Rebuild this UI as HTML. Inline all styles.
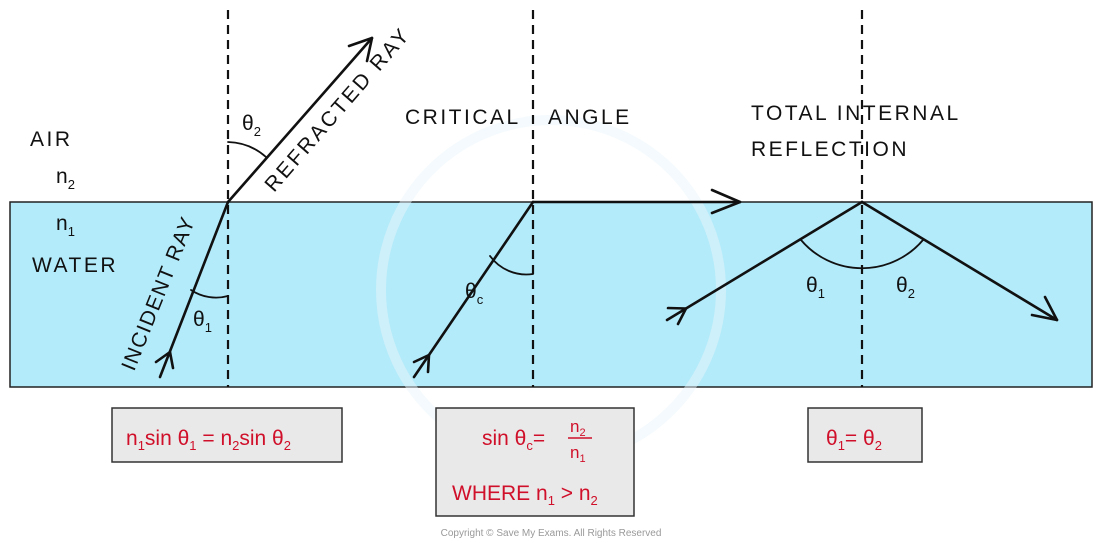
<!DOCTYPE html>
<html><head><meta charset="utf-8"><style>
html,body{margin:0;padding:0;background:#fff;}
svg{display:block;font-family:"Liberation Sans",sans-serif;}
</style></head><body>
<svg width="1100" height="543" viewBox="0 0 1100 543" xmlns="http://www.w3.org/2000/svg">
<rect x="10" y="202" width="1082" height="185" fill="#b3ebfa" stroke="#222" stroke-width="1.5"/>
<g fill="none" stroke="#e9f5fb" stroke-width="10" opacity="0.5">
<circle cx="551" cy="290" r="170"/>
</g>
<g stroke="#111" stroke-width="2.2" stroke-dasharray="9,6" fill="none">
<line x1="228" y1="10" x2="228" y2="387"/>
<line x1="533" y1="10" x2="533" y2="387"/>
<line x1="862" y1="10" x2="862" y2="387"/>
</g>
<g stroke="#111" stroke-width="2.6" fill="none" stroke-linecap="round" stroke-linejoin="round">
<line x1="160" y1="377" x2="228" y2="202"/>
<polyline points="156,362 170,352 173,368"/>
<line x1="228" y1="202" x2="372" y2="38"/>
<polyline points="349,46 372,38 367,61"/>
<path d="M191,290 A45,45 0 0 0 228,296" stroke-width="1.8"/>
<path d="M228,142 A60,60 0 0 1 266,157" stroke-width="1.8"/>
<line x1="414" y1="377" x2="533" y2="202"/>
<polyline points="414,362 429,355 428,372"/>
<line x1="533" y1="202" x2="740" y2="202"/>
<polyline points="712,190 740,202 712,213"/>
<path d="M490,256 A45,45 0 0 0 533,274" stroke-width="1.8"/>
<line x1="667" y1="320" x2="862" y2="202"/>
<polyline points="668,308 686,308.5 678,324"/>
<line x1="862" y1="202" x2="1057" y2="320"/>
<polyline points="1032,315 1057,320 1045,297"/>
<path d="M801,240 A80,80 0 0 0 923,240" stroke-width="1.8"/>
</g>
<g fill="#111" font-size="21" letter-spacing="2.5">
<text x="30" y="146">AIR</text>
<text x="56" y="183" letter-spacing="0">n<tspan font-size="13" dy="6">2</tspan></text>
<text x="56" y="230" letter-spacing="0">n<tspan font-size="13" dy="6">1</tspan></text>
<text x="32" y="272">WATER</text>
<text x="242" y="130" letter-spacing="0">θ<tspan font-size="13" dy="6">2</tspan></text>
<text x="193" y="326" letter-spacing="0">θ<tspan font-size="13" dy="6">1</tspan></text>
<text x="465" y="298" letter-spacing="0">θ<tspan font-size="13" dy="6">c</tspan></text>
<text x="806" y="292" letter-spacing="0">θ<tspan font-size="13" dy="6">1</tspan></text>
<text x="896" y="292" letter-spacing="0">θ<tspan font-size="13" dy="6">2</tspan></text>
<text x="405" y="124">CRITICAL</text>
<text x="548" y="124">ANGLE</text>
<text x="751" y="120">TOTAL  INTERNAL</text>
<text x="751" y="156">REFLECTION</text>
<text transform="translate(134,372) rotate(-68)" letter-spacing="1.5">INCIDENT  RAY</text>
<text transform="translate(274,193) rotate(-49)" letter-spacing="2.6">REFRACTED  RAY</text>
</g>
<g fill="#e9e9e9" stroke="#333" stroke-width="1.5">
<rect x="112" y="408" width="230" height="54"/>
<rect x="436" y="408" width="198" height="108"/>
<rect x="808" y="408" width="114" height="54"/>
</g>
<g fill="#d0102a" font-size="21">
<text x="126" y="445">n<tspan font-size="13" dy="5">1</tspan><tspan dy="-5">sin θ</tspan><tspan font-size="13" dy="5">1</tspan><tspan dy="-5"> = n</tspan><tspan font-size="13" dy="5">2</tspan><tspan dy="-5">sin θ</tspan><tspan font-size="13" dy="5">2</tspan></text>
<text x="482" y="445">sin θ<tspan font-size="13" dy="5">c</tspan><tspan dy="-5">=</tspan></text>
<text x="570" y="432" font-size="17">n<tspan font-size="11" dy="4">2</tspan></text>
<line x1="568" y1="438" x2="592" y2="438" stroke="#d0102a" stroke-width="1.5"/>
<text x="570" y="458" font-size="17">n<tspan font-size="11" dy="4">1</tspan></text>
<text x="452" y="500">WHERE  n<tspan font-size="13" dy="5">1</tspan><tspan dy="-5"> &gt; n</tspan><tspan font-size="13" dy="5">2</tspan></text>
<text x="826" y="445">θ<tspan font-size="13" dy="5">1</tspan><tspan dy="-5">= θ</tspan><tspan font-size="13" dy="5">2</tspan></text>
</g>
<text x="551" y="536" fill="#999" font-size="10" text-anchor="middle">Copyright © Save My Exams. All Rights Reserved</text>
</svg>
</body></html>
